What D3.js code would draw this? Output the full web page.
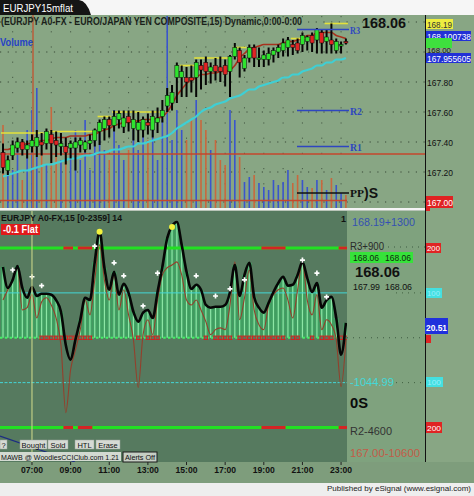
<!DOCTYPE html>
<html><head><meta charset="utf-8">
<script src="https://cdn.jsdelivr.net/npm/d3@7"></script>
<style>body{margin:0;background:#fff;overflow:hidden}svg{display:block}</style>
</head><body><svg id="c" width="474" height="496"></svg>
<script>
// ---------- DATA ----------
const tickLabels = ["07:00","09:00","11:00","13:00","15:00","17:00","19:00","21:00","23:00"];
const tickBars = [6,14,22,30,38,46,54,62,70];   // bar 0 = 05:30, 15-min bars
const open = [167.33,167.21,167.31,167.36,167.40,167.35,167.37,167.37,167.40,167.39,
  167.45,167.41,167.37,167.37,167.36,167.36,167.38,167.35,167.39,167.41,
  167.47,167.49,167.55,167.51,167.55,167.50,167.57,167.49,167.48,167.48,
  167.53,167.48,167.53,167.57,167.64,167.66,167.83,167.83,167.83,167.83,
  167.83,167.91,167.93,167.87,167.91,167.90,167.91,167.87,167.97,168.01,
  167.89,167.96,168.03,167.95,167.95,167.95,167.98,168.00,168.01,168.03,
  168.05,168.06,168.05,168.07,168.11,168.08,168.13,168.07,168.08,168.01,
  168.04,168.07];
const close = [167.23,167.28,167.38,167.40,167.35,167.38,167.41,167.43,167.38,167.47,
  167.39,167.38,167.39,167.33,167.39,167.40,167.41,167.40,167.41,167.48,
  167.53,167.55,167.51,167.57,167.59,167.56,167.53,167.55,167.53,167.55,
  167.51,167.57,167.56,167.61,167.71,167.73,167.91,167.87,167.80,167.81,
  167.93,167.88,167.87,167.90,167.87,167.87,167.85,167.97,168.03,167.93,
  167.96,168.03,167.96,167.96,167.98,167.99,168.01,168.03,168.06,168.08,
  168.03,168.01,168.11,168.10,168.06,168.15,168.06,168.10,168.05,168.07,
  168.05,168.06];
const high = [167.39,167.31,167.41,167.43,167.42,167.41,167.45,167.48,167.46,167.49,
  167.48,167.47,167.46,167.43,167.41,167.43,167.43,167.41,167.45,167.49,
  167.55,167.57,167.57,167.61,167.61,167.61,167.61,167.61,167.60,167.57,
  167.59,167.61,167.63,167.68,167.76,167.78,167.93,167.91,167.90,167.91,
  167.95,167.95,167.97,167.93,167.96,167.97,167.95,167.98,168.06,168.03,
  167.98,168.05,168.05,168.03,168.01,168.03,168.03,168.05,168.09,168.10,
  168.08,168.09,168.13,168.11,168.13,168.16,168.15,168.15,168.19,168.09,
  168.07,168.09];
const low = [167.19,167.18,167.28,167.33,167.31,167.29,167.33,167.30,167.31,167.35,
  167.26,167.30,167.31,167.25,167.29,167.21,167.33,167.33,167.35,167.37,
  167.38,167.41,167.43,167.47,167.49,167.46,167.47,167.41,167.40,167.43,
  167.45,167.43,167.46,167.53,167.60,167.61,167.66,167.70,167.70,167.73,
  167.70,167.75,167.78,167.79,167.81,167.80,167.77,167.70,167.95,167.83,
  167.87,167.93,167.90,167.90,167.90,167.91,167.93,167.96,167.97,167.97,
  167.98,167.99,168.00,168.01,168.00,167.99,167.99,167.99,167.99,167.99,
  167.99,168.05];
const volume = [830,480,380,580,280,780,980,1200,580,430,
  1010,680,480,680,580,780,480,880,380,680,
  780,580,480,980,630,480,580,780,580,830,
  680,880,480,880,1920,680,980,780,680,880,
  1080,880,780,580,680,480,430,980,880,510,
  260,310,330,250,210,180,280,230,260,380,
  250,330,280,210,200,280,280,180,300,230,
  150,130];
const cyanMA = [167.17,167.18,167.19,167.20,167.21,167.21,167.22,167.23,167.24,167.25,
  167.25,167.26,167.27,167.28,167.29,167.29,167.30,167.31,167.31,167.32,
  167.33,167.33,167.34,167.35,167.35,167.36,167.37,167.37,167.39,167.39,
  167.40,167.41,167.42,167.43,167.44,167.46,167.49,167.51,167.53,167.55,
  167.57,167.60,167.62,167.63,167.65,167.66,167.67,167.69,167.70,167.71,
  167.73,167.75,167.75,167.77,167.78,167.79,167.80,167.81,167.83,167.83,
  167.85,167.85,167.87,167.88,167.89,167.91,167.91,167.93,167.93,167.95,
  167.95,167.96];
const brownMA = [167.35,167.35,167.36,167.37,167.38,167.39,167.39,167.40,167.41,167.41,
  167.42,167.43,167.43,167.43,167.44,167.44,167.44,167.44,167.45,167.45,
  167.47,167.48,167.49,167.51,167.52,167.53,167.53,167.54,167.54,167.55,
  167.55,167.55,167.56,167.57,167.60,167.65,167.71,167.75,167.79,167.81,
  167.83,167.85,167.85,167.86,167.86,167.87,167.87,167.88,167.91,167.96,
  167.99,168.02,168.03,168.04,168.05,168.05,168.05,168.05,168.06,168.07,
  168.07,168.08,168.09,168.11,168.11,168.13,168.13,168.13,168.13,168.11,
  168.10,168.09];
const hiStart = [0,10,20,23,37,40,48,60,67];
const hiEnd   = [8,19,22,32,40,47,50,64,71];
const hiVal   = [167.46,167.47,167.57,167.60,167.91,167.96,168.03,168.09,168.19];
const redLevels = [167.32,167.01];
const pivotNames = ["R3","R2","R1","PP"];
const pivotVals  = [168.15,167.61,167.37,167.06];
const priceTicks = ["167.20","167.40","167.60","167.80"];
const gridVals = [167.00,167.20,167.40,167.60,167.80,168.00,168.20];
const cci = [158,111,129,160,111,89,113,93,98,98,
  96,84,58,-16,-49,-4,40,89,84,169,
  236,156,107,147,96,120,100,58,36,56,
  62,44,102,158,222,249,258,207,147,109,
  118,107,73,67,69,69,73,102,162,93,
  140,167,91,67,56,78,102,122,136,116,
  118,140,169,133,102,122,67,84,91,44,
  -38,33];
const turbo = [84,107,129,156,62,67,96,44,80,89,
  73,44,-16,-167,-71,-27,18,84,51,129,
  207,129,84,140,62,107,51,-4,-111,7,
  40,7,84,140,156,162,169,140,84,73,
  84,62,36,7,18,22,18,73,169,40,
  89,151,62,29,18,73,96,107,111,84,
  44,107,169,84,51,96,18,40,29,-4,
  -109,-4];
const zeroFlag = [0,0,0,0,0,0,0,0,1,1,1,1,1,1,1,1,1,1,1,0,0,0,0,0,0,0,0,0,1,0,1,1,1,
  0,0,0,0,0,0,0,0,0,1,0,1,1,1,1,0,1,1,1,1,1,1,1,1,1,1,0,1,1,0,0,1,0,1,1,1,0,1,1];
const trendRed = [[13,14],[16,18],[54,58],[70,71]];
const whiteBars = [2,6,8,19,23,25,29,32,40,44,47,50,62,65,67];
const whiteVals = [151,136,116,204,167,138,71,144,138,93,109,129,173,144,91];
const yellowBars = [20,35];
const yellowVals = [236,247];

// ---------- SETUP ----------
const svg = d3.select("#c");
const FONT = "'Liberation Sans',Arial,sans-serif";
function txt(g,x,y,s,o={}){
  const t=g.append("text").attr("x",x).attr("y",y).text(s)
   .attr("font-size",o.size||10).attr("fill",o.fill||"#000")
   .attr("font-weight",o.weight||"normal").attr("font-family",o.family||FONT);
  if(o.len) t.attr("textLength",o.len).attr("lengthAdjust","spacingAndGlyphs");
  if(o.anchor) t.attr("text-anchor",o.anchor);
  return t;
}
function rect(g,x,y,w,h,f){return g.append("rect").attr("x",x).attr("y",y).attr("width",w).attr("height",h).attr("fill",f);}

const xB = d3.scaleLinear().domain([0,71]).range([3,345.9]);
const yP = d3.scaleLinear().domain([167.00,168.00]).range([202,52]);
const yV = d3.scaleLinear().domain([0,1920]).range([208,16]);
const yC = d3.scaleLinear().domain([-200,200]).range([427.5,248]);
const bw = xB(1)-xB(0);

// backgrounds
rect(svg,0,0,474,496,"#ffffff");
rect(svg,0,0,474,15,"#f6f6f6");
svg.append("path").attr("d","M0,0H79Q87,1 91,15H0Z").attr("fill","#151515");
txt(svg,3,12,"EURJPY15mflat",{size:11.5,fill:"#ffffff",len:70});
rect(svg,0,15,474,447,"#88a684");
rect(svg,0,211,347,251,"#567a5f");
rect(svg,347,211,78,251,"#7fa27e");
rect(svg,0,462,474,21,"#7e9d7c");
rect(svg,0,483,474,13,"#eeeeee");
rect(svg,0,208,425,2,"#f4f4f4");
rect(svg,0,210,425,1,"#b8c4b8");

// ---------- PRICE PANEL ----------
svg.append("clipPath").attr("id","cp").append("rect").attr("x",0).attr("y",15).attr("width",425).attr("height",193);
const P = svg.append("g").attr("clip-path","url(#cp)");
P.selectAll(".hg").data(gridVals).join("line")
 .attr("x1",0).attr("x2",425).attr("y1",d=>yP(d)).attr("y2",d=>yP(d))
 .attr("stroke","#1e2a1e").attr("stroke-width",1).attr("stroke-dasharray","1.2,6.5").attr("opacity",0.75);
const hourBars = d3.range(2,72,4);
P.selectAll(".vg").data(hourBars).join("line")
 .attr("x1",d=>xB(d)).attr("x2",d=>xB(d)).attr("y1",16).attr("y2",208)
 .attr("stroke","#1e2a1e").attr("stroke-width",1).attr("stroke-dasharray","1.2,14").attr("opacity",0.6);
P.selectAll(".vol").data(volume).join("line")
 .attr("x1",(d,i)=>xB(i)).attr("x2",(d,i)=>xB(i)).attr("y1",yV(0)).attr("y2",d=>yV(d))
 .attr("stroke",(d,i)=>close[i]>=open[i]?"#3a55cc":"#c8683e").attr("stroke-width",1.6);
P.append("line").attr("x1",xB(6)+1).attr("x2",xB(6)+1).attr("y1",15).attr("y2",208).attr("stroke","#ad6f4c").attr("stroke-width",2);
P.selectAll(".rl").data(redLevels).join("line")
 .attr("x1",0).attr("x2",(d,i)=>i===0?425:347).attr("y1",d=>yP(d)).attr("y2",d=>yP(d))
 .attr("stroke","#c4462c").attr("stroke-width",1.3);
const lineP = arr => d3.line().x((d,i)=>xB(i)).y(d=>yP(d)).curve(d3.curveMonotoneX)(arr);
P.append("path").attr("d",lineP(cyanMA)).attr("fill","none").attr("stroke","#3fcfd4").attr("stroke-width",2.2);
P.append("path").attr("d",lineP(brownMA)).attr("fill","none").attr("stroke","#a8321e").attr("stroke-width",1.6);
P.selectAll(".hi").data(hiVal).join("line")
 .attr("x1",(d,i)=>xB(hiStart[i])-2).attr("x2",(d,i)=>xB(hiEnd[i])+2).attr("y1",d=>yP(d)).attr("y2",d=>yP(d))
 .attr("stroke","#e4e23a").attr("stroke-width",1.6);
const cg = P.append("g");
cg.selectAll(".wk").data(close).join("line")
 .attr("x1",(d,i)=>xB(i)).attr("x2",(d,i)=>xB(i)).attr("y1",(d,i)=>yP(high[i])).attr("y2",(d,i)=>yP(low[i]))
 .attr("stroke","#050505").attr("stroke-width",2);
cg.selectAll(".bd").data(close).join("rect")
 .attr("x",(d,i)=>xB(i)-2).attr("width",4)
 .attr("y",(d,i)=>yP(Math.max(open[i],close[i])))
 .attr("height",(d,i)=>Math.max(1.2,Math.abs(yP(open[i])-yP(close[i]))))
 .attr("fill",(d,i)=>close[i]>open[i]?"#2ee42e":(close[i]<open[i]?"#e02424":"#050505"))
 .attr("stroke","#0a0a0a").attr("stroke-width",0.5);
P.selectAll(".pv").data(pivotVals).join("line")
 .attr("x1",297).attr("x2",349).attr("y1",d=>yP(d)).attr("y2",d=>yP(d))
 .attr("stroke",(d,i)=>i===3?"#111":"#2e46c0").attr("stroke-width",1.4);
pivotNames.forEach((n,i)=>{
  txt(P,350,yP(pivotVals[i])+4,n,{size:11,weight:"bold",fill:i===3?"#111":"#2e46c0",family:"'Liberation Serif',serif",len:i===3?14:i===0?10:12});
});
txt(P,364,yP(pivotVals[3])+5,")S",{size:14,weight:"bold",fill:"#111"});
txt(svg,1,25,"(EURJPY A0-FX - EURO/JAPAN YEN COMPOSITE,15) Dynamic,0:00-0:00",{size:10,weight:"bold",fill:"#1a1f1a",len:301});
txt(svg,362,28,"168.06",{size:15,weight:"bold",fill:"#111",len:44});
txt(svg,0,46,"Volume",{size:10,weight:"bold",fill:"#2543c6",len:33});

// price axis
svg.append("line").attr("x1",425.5).attr("x2",425.5).attr("y1",15).attr("y2",462).attr("stroke","#111").attr("stroke-width",1);
priceTicks.forEach(t=>txt(svg,427,yP(+t)+4,t,{size:9.5,fill:"#111",len:26}));
rect(svg,426,19,27,10,"#eeee40");
txt(svg,427,27.5,"168.19",{size:9,fill:"#333",len:25});
rect(svg,426,31,45,10,"#2231d6");
txt(svg,427,39.5,"168.100738",{size:9,fill:"#fff",len:44});
rect(svg,426,38,26,10,"#3ee03e");
txt(svg,427,52.5,"168.00",{size:7.5,fill:"#111",len:24});
rect(svg,426,53,45,10,"#2231d6");
txt(svg,427,61.5,"167.955605",{size:9,fill:"#fff",len:44});
rect(svg,426,196,27,12,"#e02222");
txt(svg,427,205.5,"167.00",{size:9.5,fill:"#fff",len:26});
rect(svg,426,208,4,3,"#e02222");

// ---------- CCI PANEL ----------
svg.append("clipPath").attr("id","cl").append("rect").attr("x",0).attr("y",211).attr("width",347).attr("height",251);
const L = svg.append("g").attr("clip-path","url(#cl)");
L.selectAll(".hb").data(cci).join("rect")
 .attr("x",(d,i)=>xB(i)-bw/2).attr("width",bw)
 .attr("y",d=>yC(Math.max(0,d))).attr("height",d=>Math.abs(yC(Math.max(0,d))-yC(0)))
 .attr("fill","#40a062");
L.selectAll(".hl").data(cci).join("line")
 .attr("x1",(d,i)=>xB(i)).attr("x2",(d,i)=>xB(i)).attr("y1",yC(0)).attr("y2",d=>yC(Math.max(0,d)))
 .attr("stroke","#8de6a6").attr("stroke-width",1.2);
[100,-100].forEach(v=>{
  L.append("line").attr("x1",0).attr("x2",347).attr("y1",yC(v)).attr("y2",yC(v))
   .attr("stroke","#44d6d6").attr("stroke-width",1).attr("stroke-dasharray",v<0?"3,1.5":null);
  svg.append("line").attr("x1",396).attr("x2",425).attr("y1",yC(v)).attr("y2",yC(v))
   .attr("stroke","#406040").attr("stroke-dasharray","1,5");
});
L.append("line").attr("x1",0).attr("x2",347).attr("y1",yC(0)).attr("y2",yC(0))
 .attr("stroke","#44ee66").attr("stroke-width",2).attr("stroke-dasharray","2.5,2.3");
svg.append("line").attr("x1",347).attr("x2",425).attr("y1",yC(0)).attr("y2",yC(0))
 .attr("stroke","#3c5a40").attr("stroke-dasharray","1,5");
L.selectAll(".zr").data(zeroFlag.map((f,i)=>f?i:-1).filter(i=>i>=0)).join("rect")
 .attr("x",d=>xB(d)-1.7).attr("y",yC(0)-1.7).attr("width",3.4).attr("height",3.4)
 .attr("fill","#567a5f").attr("stroke","#d42020").attr("stroke-width",1);
[200,-200].forEach(v=>{
  L.append("line").attr("x1",0).attr("x2",347).attr("y1",yC(v)).attr("y2",yC(v)).attr("stroke","#22e022").attr("stroke-width",3);
  trendRed.forEach(r=>{
    L.append("line").attr("x1",xB(r[0])-2.4).attr("x2",xB(r[1])+2.4).attr("y1",yC(v)).attr("y2",yC(v))
     .attr("stroke","#d42424").attr("stroke-width",3);
  });
});
const lineC = arr => d3.line().x((d,i)=>xB(i)).y(d=>yC(d)).curve(d3.curveMonotoneX)(arr);
L.append("path").attr("d",lineC(turbo)).attr("fill","none").attr("stroke","#93402c").attr("stroke-width",1.1);
L.append("path").attr("d",lineC(cci)).attr("fill","none").attr("stroke","#060606").attr("stroke-width",2.6);
L.selectAll(".wm").data(whiteVals).join("path")
 .attr("transform",(d,i)=>`translate(${xB(whiteBars[i])},${yC(d)})`)
 .attr("d",d3.symbol(d3.symbolCross,14)).attr("fill","#ffffff");
L.selectAll(".ym").data(yellowVals).join("circle")
 .attr("cx",(d,i)=>xB(yellowBars[i])).attr("cy",d=>yC(d)).attr("r",3).attr("fill","#f2f23c");
L.append("line").attr("x1",xB(6)).attr("x2",xB(6)).attr("y1",211).attr("y2",462).attr("stroke","#c9d488").attr("stroke-width",1.1);

txt(svg,1,221,"EURJPY A0-FX,15 [0-2359] 14",{size:9.5,weight:"bold",fill:"#111",len:121});
rect(svg,1,224,39,11,"#e01a1a");
txt(svg,3,233,"-0.1 Flat",{size:10,weight:"bold",fill:"#fff",len:35});
txt(svg,341,222,"1",{size:9,weight:"bold",fill:"#111"});
txt(svg,352,226,"168.19+1300",{size:11,fill:"#3451b2",len:63});
txt(svg,350,250,"R3+900",{size:10,fill:"#2a2a2a",len:34});
svg.append("line").attr("x1",388).attr("x2",425).attr("y1",247).attr("y2",247).attr("stroke","#3c5a40").attr("stroke-dasharray","1,5");
rect(svg,350,252,63,11,"#36e23a");
txt(svg,353,261,"168.06",{size:9,fill:"#0e2a0e",len:26});
txt(svg,385,261,"168.06",{size:9,fill:"#0e2a0e",len:26});
txt(svg,355,277,"168.06",{size:15,weight:"bold",fill:"#111",len:45});
txt(svg,353,290,"167.99",{size:9.5,fill:"#111",len:27});
txt(svg,385,290,"168.06",{size:9.5,fill:"#111",len:27});
txt(svg,350,386,"-1044.99",{size:10,fill:"#44d8d8",len:44});
txt(svg,350,408,"0S",{size:14,weight:"bold",fill:"#0a0a0a",len:18});
txt(svg,350,435,"R2-4600",{size:11,fill:"#333",len:42});
txt(svg,350,457,"167.00-10600",{size:11,fill:"#c25c48",len:70});
rect(svg,426,243,15,10,"#e02424"); txt(svg,427,251,"200",{size:8,fill:"#fff",len:13});
rect(svg,426,288,16,10,"#44e0e0"); txt(svg,427,296,"100",{size:8,fill:"#9ef",len:13});
rect(svg,425,318,23,16,"#2030dc"); txt(svg,426,331,"20.51",{size:9.5,weight:"bold",fill:"#fff",len:21});
rect(svg,426,335,5,8,"#e02424");
rect(svg,426,377,17,10,"#44e0e0"); txt(svg,427,385,"100",{size:8,fill:"#9ef",len:14});
rect(svg,426,422,16,11,"#e02424"); txt(svg,427,431,"200",{size:8,fill:"#fff",len:14});

L.append("line").attr("x1",0).attr("y1",436).attr("x2",75).attr("y2",462).attr("stroke","#1c2c82").attr("stroke-width",1.2);
const btns = [["?",0,7],["Bought",20,27],["Sold",48,20],["HTL",75,19],["Erase",96,24]];
btns.forEach(b=>{
  rect(svg,b[1],440,b[2],9,"#d6dad4").attr("stroke","#9aa49a").attr("stroke-width",0.5);
  txt(svg,b[1]+b[2]/2,447.5,b[0],{size:7.5,fill:"#111",anchor:"middle"});
});
rect(svg,0,452,121,9,"#d3dad1");
txt(svg,1,459.5,"MAWB @ WoodiesCCIClub.com 1.21",{size:7.5,fill:"#111",len:118});
rect(svg,123,452,34,10,"#c6cec4").attr("stroke","#1a1a1a").attr("stroke-width",1);
txt(svg,125,460,"Alerts Off",{size:7.5,fill:"#111",len:30});

svg.selectAll(".tk").data(tickBars).join("line")
 .attr("x1",d=>xB(d)).attr("x2",d=>xB(d)).attr("y1",462).attr("y2",465).attr("stroke","#222");
tickLabels.forEach((t,i)=>txt(svg,xB(tickBars[i]),473,t,{size:9.5,weight:"bold",fill:"#111",anchor:"middle",len:22}));
txt(svg,471,491,"Published by eSignal (www.esignal.com)",{size:8,fill:"#222",anchor:"end"});
</script></body></html>
